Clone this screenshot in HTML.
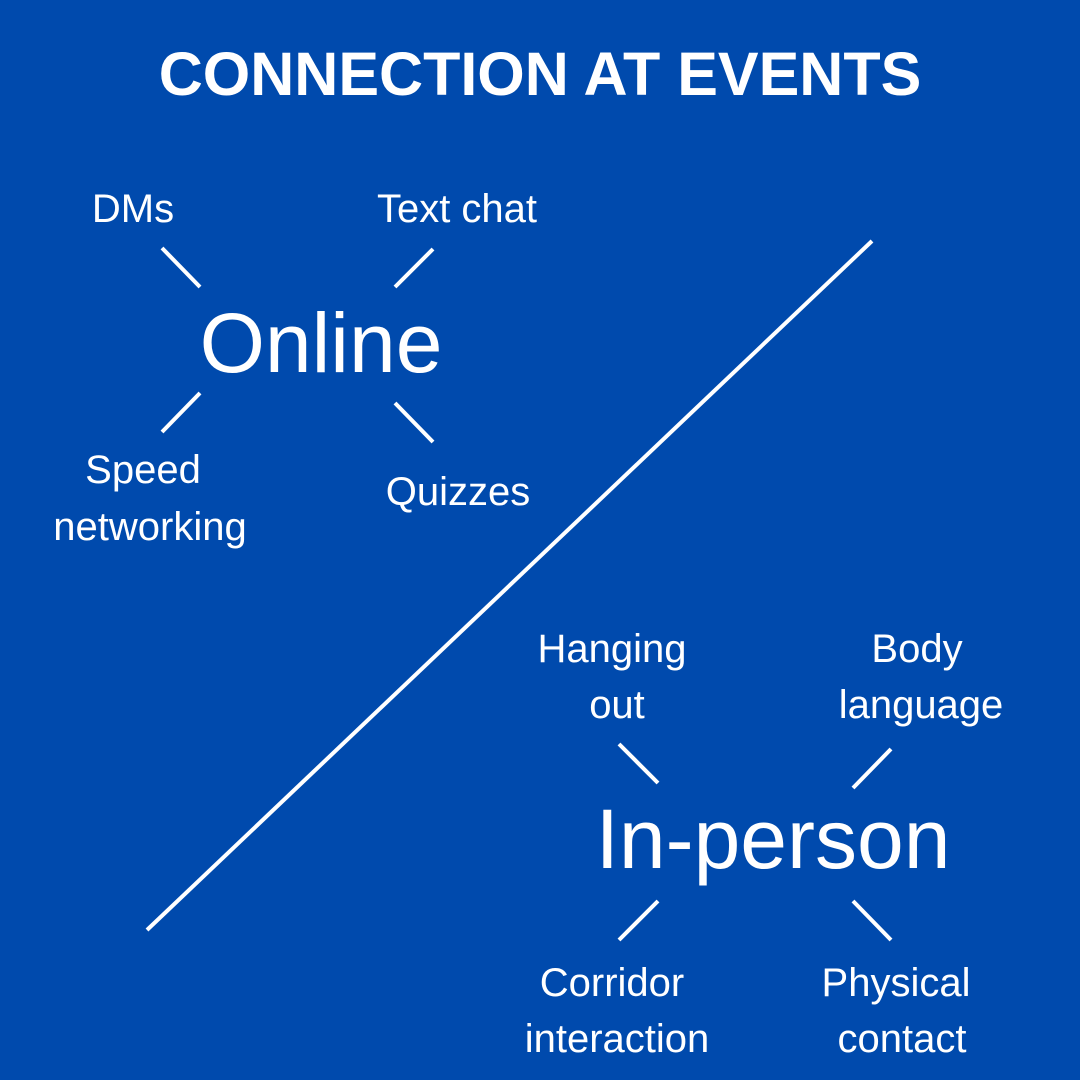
<!DOCTYPE html>
<html>
<head>
<meta charset="utf-8">
<style>
  html, body { margin: 0; padding: 0; background: #004aad; }
  svg { display: block; }
  .t { font-family: "Liberation Sans", sans-serif; fill: #ffffff; text-anchor: middle; }
</style>
</head>
<body>
<svg width="1080" height="1080" viewBox="0 0 1080 1080" xmlns="http://www.w3.org/2000/svg">
  <rect x="0" y="0" width="1080" height="1080" fill="#004aad"/>

  <!-- Title -->
  <text class="t" x="540" y="95" font-size="61" font-weight="bold">CONNECTION AT EVENTS</text>

  <!-- Big diagonal -->
  <line x1="147" y1="930" x2="872" y2="241" stroke="#fff" stroke-width="4"/>

  <!-- Online cluster -->
  <text class="t" x="321" y="372" font-size="84">Online</text>
  <text class="t" x="133" y="222" font-size="40">DMs</text>
  <text class="t" x="457" y="222" font-size="40">Text chat</text>
  <text class="t" x="143" y="483" font-size="40">Speed</text>
  <text class="t" x="150" y="540" font-size="40">networking</text>
  <text class="t" x="458" y="505" font-size="40">Quizzes</text>

  <g stroke="#fff" stroke-width="4">
    <line x1="162" y1="248" x2="200" y2="287"/>
    <line x1="433" y1="249" x2="395" y2="287"/>
    <line x1="200" y1="393" x2="162" y2="432"/>
    <line x1="395" y1="403" x2="433" y2="442"/>
  </g>

  <!-- In-person cluster -->
  <text class="t" x="773" y="868" font-size="84">In-person</text>
  <text class="t" x="612" y="662" font-size="40">Hanging</text>
  <text class="t" x="617" y="718" font-size="40">out</text>
  <text class="t" x="917" y="662" font-size="40">Body</text>
  <text class="t" x="921" y="718" font-size="40">language</text>
  <text class="t" x="612" y="996" font-size="40">Corridor</text>
  <text class="t" x="617" y="1052" font-size="40">interaction</text>
  <text class="t" x="896" y="996" font-size="40">Physical</text>
  <text class="t" x="902" y="1052" font-size="40">contact</text>

  <g stroke="#fff" stroke-width="4">
    <line x1="619" y1="744" x2="658" y2="783"/>
    <line x1="891" y1="749" x2="853" y2="788"/>
    <line x1="658" y1="901" x2="619" y2="940"/>
    <line x1="853" y1="901" x2="891" y2="940"/>
  </g>
</svg>
</body>
</html>
